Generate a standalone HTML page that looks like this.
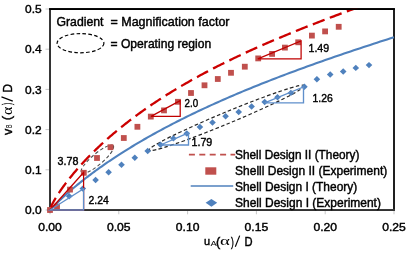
<!DOCTYPE html><html><head><meta charset="utf-8"><style>html,body{margin:0;padding:0;background:#fff;overflow:hidden}svg{display:block;will-change:transform}</style></head><body>
<svg width="406" height="257" viewBox="0 0 406 257" font-family="Liberation Sans, sans-serif">
<rect width="406" height="257" fill="#fff"/>
<line x1="45.5" y1="210.00" x2="50" y2="210.00" stroke="#c8c8c8" stroke-width="1"/>
<line x1="50.00" y1="210" x2="50.00" y2="214.3" stroke="#c8c8c8" stroke-width="1"/>
<line x1="45.5" y1="169.80" x2="50" y2="169.80" stroke="#c8c8c8" stroke-width="1"/>
<line x1="118.80" y1="210" x2="118.80" y2="214.3" stroke="#c8c8c8" stroke-width="1"/>
<line x1="45.5" y1="129.60" x2="50" y2="129.60" stroke="#c8c8c8" stroke-width="1"/>
<line x1="187.60" y1="210" x2="187.60" y2="214.3" stroke="#c8c8c8" stroke-width="1"/>
<line x1="45.5" y1="89.40" x2="50" y2="89.40" stroke="#c8c8c8" stroke-width="1"/>
<line x1="256.40" y1="210" x2="256.40" y2="214.3" stroke="#c8c8c8" stroke-width="1"/>
<line x1="45.5" y1="49.20" x2="50" y2="49.20" stroke="#c8c8c8" stroke-width="1"/>
<line x1="325.20" y1="210" x2="325.20" y2="214.3" stroke="#c8c8c8" stroke-width="1"/>
<line x1="45.5" y1="9.00" x2="50" y2="9.00" stroke="#c8c8c8" stroke-width="1"/>
<line x1="394.00" y1="210" x2="394.00" y2="214.3" stroke="#c8c8c8" stroke-width="1"/>
<rect x="50" y="9.05" width="344" height="200.95" fill="none" stroke="#000" stroke-width="1.75"/>
<line x1="49.9" y1="8.2" x2="49.9" y2="210.9" stroke="#3a3a3a" stroke-width="1.75"/>
<line x1="49.1" y1="209.9" x2="394.9" y2="209.9" stroke="#3a3a3a" stroke-width="1.9"/>
<text x="41.7" y="214.15" font-size="11.7" text-anchor="end" textLength="16.6" lengthAdjust="spacingAndGlyphs" fill="#000" stroke="#000" stroke-width="0.42">0.0</text>
<text x="41.7" y="173.95" font-size="11.7" text-anchor="end" textLength="16.6" lengthAdjust="spacingAndGlyphs" fill="#000" stroke="#000" stroke-width="0.42">0.1</text>
<text x="41.7" y="133.75" font-size="11.7" text-anchor="end" textLength="16.6" lengthAdjust="spacingAndGlyphs" fill="#000" stroke="#000" stroke-width="0.42">0.2</text>
<text x="41.7" y="93.55" font-size="11.7" text-anchor="end" textLength="16.6" lengthAdjust="spacingAndGlyphs" fill="#000" stroke="#000" stroke-width="0.42">0.3</text>
<text x="41.7" y="53.35" font-size="11.7" text-anchor="end" textLength="16.6" lengthAdjust="spacingAndGlyphs" fill="#000" stroke="#000" stroke-width="0.42">0.4</text>
<text x="41.7" y="13.15" font-size="11.7" text-anchor="end" textLength="16.6" lengthAdjust="spacingAndGlyphs" fill="#000" stroke="#000" stroke-width="0.42">0.5</text>
<text x="50.00" y="231.0" font-size="11.6" text-anchor="middle" textLength="23.6" lengthAdjust="spacingAndGlyphs" fill="#000" stroke="#000" stroke-width="0.42">0.00</text>
<text x="118.80" y="231.0" font-size="11.6" text-anchor="middle" textLength="23.6" lengthAdjust="spacingAndGlyphs" fill="#000" stroke="#000" stroke-width="0.42">0.05</text>
<text x="187.60" y="231.0" font-size="11.6" text-anchor="middle" textLength="23.6" lengthAdjust="spacingAndGlyphs" fill="#000" stroke="#000" stroke-width="0.42">0.10</text>
<text x="256.40" y="231.0" font-size="11.6" text-anchor="middle" textLength="23.6" lengthAdjust="spacingAndGlyphs" fill="#000" stroke="#000" stroke-width="0.42">0.15</text>
<text x="325.20" y="231.0" font-size="11.6" text-anchor="middle" textLength="23.6" lengthAdjust="spacingAndGlyphs" fill="#000" stroke="#000" stroke-width="0.42">0.20</text>
<text x="394.00" y="231.0" font-size="11.6" text-anchor="middle" textLength="23.6" lengthAdjust="spacingAndGlyphs" fill="#000" stroke="#000" stroke-width="0.42">0.25</text>
<line x1="235.3" y1="246.7" x2="239.7" y2="235.6" stroke="#000" stroke-width="1.15"/>
<line x1="12.8" y1="101.1" x2="1.5" y2="96.9" stroke="#000" stroke-width="1.15"/>
<text x="204.0" y="244.5" font-family="Liberation Sans" font-size="11.6" textLength="6.09" lengthAdjust="spacingAndGlyphs" fill="#000" stroke="#000" stroke-width="0.42">u</text>
<text x="210.5" y="245.5" font-family="Liberation Sans" font-size="6.4" textLength="6.29" lengthAdjust="spacingAndGlyphs" fill="#000" >A</text>
<text x="216.0" y="245.5" font-family="Liberation Sans" font-size="13.0" textLength="4.28" lengthAdjust="spacingAndGlyphs" fill="#000" stroke="#000" stroke-width="0.42">(</text>
<text x="220.0" y="244.5" font-family="Liberation Serif" font-size="12.6" textLength="9.83" lengthAdjust="spacingAndGlyphs" fill="#000" >α</text>
<text x="231.0" y="245.5" font-family="Liberation Sans" font-size="13.0" textLength="2.81" lengthAdjust="spacingAndGlyphs" fill="#000" stroke="#000" stroke-width="0.42">)</text>
<text x="244.5" y="246.0" font-family="Liberation Sans" font-size="12.4" textLength="8.05" lengthAdjust="spacingAndGlyphs" fill="#000" stroke="#000" stroke-width="0.42">D</text>
<text transform="translate(12.0,135.0) rotate(-90)" x="0" y="0" font-family="Liberation Sans" font-size="12.6" textLength="6.25" lengthAdjust="spacingAndGlyphs" fill="#000" stroke="#000" stroke-width="0.42">v</text>
<text transform="translate(12.0,128.0) rotate(-90)" x="0" y="0" font-family="Liberation Sans" font-size="8.4" textLength="3.47" lengthAdjust="spacingAndGlyphs" fill="#000" >B</text>
<text transform="translate(11.0,120.0) rotate(-90)" x="0" y="0" font-family="Liberation Sans" font-size="13.0" textLength="4.12" lengthAdjust="spacingAndGlyphs" fill="#000" stroke="#000" stroke-width="0.42">(</text>
<text transform="translate(12.0,115.0) rotate(-90)" x="0" y="0" font-family="Liberation Serif" font-size="13.6" textLength="8.3" lengthAdjust="spacingAndGlyphs" fill="#000" >α</text>
<text transform="translate(10.5,105.0) rotate(-90)" x="0" y="0" font-family="Liberation Sans" font-size="13.0" textLength="2.3" lengthAdjust="spacingAndGlyphs" fill="#000" stroke="#000" stroke-width="0.42">)</text>
<text transform="translate(11.5,92.5) rotate(-90)" x="0" y="0" font-family="Liberation Sans" font-size="13.4" textLength="8.5" lengthAdjust="spacingAndGlyphs" fill="#000" stroke="#000" stroke-width="0.42">D</text>
<ellipse cx="226.8" cy="117.9" rx="84.2" ry="5.8" transform="rotate(-22.55 226.8 117.9)" fill="none" stroke="#262626" stroke-width="1.2" stroke-dasharray="3.6 2.4"/>
<ellipse cx="97.3" cy="159.3" rx="21" ry="5.5" transform="rotate(-40.5 97.3 159.3)" fill="none" stroke="#4d4d4d" stroke-width="1.1" stroke-dasharray="3.4 2.4"/>
<path d="M50.00,210.00 L50.01,210.01 L50.03,210.00 L50.08,209.97 L50.14,209.92 L50.22,209.84 L50.31,209.75 L50.43,209.64 L50.56,209.51 L50.70,209.35 L50.87,209.18 L51.05,208.99 L51.25,208.79 L51.47,208.56 L51.70,208.32 L51.95,208.05 L52.22,207.77 L52.51,207.48 L52.81,207.16 L53.14,206.83 L53.47,206.49 L53.83,206.12 L54.20,205.75 L54.60,205.35 L55.00,204.94 L55.43,204.51 L55.87,204.07 L56.33,203.62 L56.81,203.15 L57.31,202.66 L57.82,202.16 L58.35,201.65 L58.90,201.12 L59.46,200.59 L60.04,200.03 L60.64,199.47 L61.26,198.89 L61.89,198.30 L62.54,197.69 L63.21,197.07 L63.90,196.45 L64.60,195.81 L65.32,195.16 L66.06,194.49 L66.82,193.82 L67.59,193.13 L68.38,192.44 L69.19,191.73 L70.01,191.01 L70.86,190.29 L71.72,189.55 L72.59,188.80 L73.49,188.05 L74.40,187.28 L75.33,186.51 L76.28,185.72 L77.24,184.93 L78.22,184.13 L79.22,183.32 L80.24,182.50 L81.27,181.68 L82.32,180.84 L83.39,180.00 L84.48,179.15 L85.58,178.29 L86.70,177.43 L87.84,176.55 L88.99,175.67 L90.17,174.79 L91.36,173.90 L92.56,173.00 L93.79,172.09 L95.03,171.18 L96.29,170.26 L97.57,169.34 L98.86,168.41 L100.17,167.47 L101.50,166.53 L102.85,165.59 L104.21,164.64 L105.59,163.68 L106.99,162.72 L108.41,161.75 L109.84,160.78 L111.29,159.81 L112.76,158.83 L114.25,157.84 L115.75,156.85 L117.27,155.86 L118.81,154.87 L120.36,153.87 L121.93,152.86 L123.52,151.86 L125.13,150.84 L126.76,149.83 L128.40,148.81 L130.06,147.79 L131.73,146.77 L133.43,145.74 L135.14,144.71 L136.87,143.68 L138.61,142.65 L140.38,141.61 L142.16,140.57 L143.95,139.53 L145.77,138.48 L147.60,137.44 L149.45,136.39 L151.32,135.34 L153.21,134.29 L155.11,133.23 L157.03,132.18 L158.97,131.12 L160.92,130.06 L162.89,129.00 L164.88,127.94 L166.89,126.88 L168.91,125.81 L170.95,124.75 L173.01,123.68 L175.09,122.61 L177.18,121.54 L179.29,120.47 L181.42,119.40 L183.57,118.33 L185.73,117.26 L187.91,116.18 L190.11,115.11 L192.32,114.03 L194.55,112.96 L196.80,111.88 L199.07,110.81 L201.36,109.73 L203.66,108.65 L205.98,107.58 L208.31,106.50 L210.67,105.42 L213.04,104.34 L215.43,103.27 L217.83,102.19 L220.26,101.11 L222.70,100.03 L225.16,98.95 L227.63,97.87 L230.13,96.79 L232.64,95.71 L235.16,94.63 L237.71,93.55 L240.27,92.48 L242.85,91.40 L245.45,90.32 L248.06,89.24 L250.70,88.16 L253.35,87.08 L256.01,86.00 L258.70,84.92 L261.40,83.84 L264.12,82.76 L266.85,81.69 L269.61,80.61 L272.38,79.53 L275.17,78.45 L277.97,77.37 L280.80,76.29 L283.64,75.21 L286.49,74.13 L289.37,73.06 L292.26,71.98 L295.17,70.90 L298.10,69.82 L301.04,68.74 L304.01,67.66 L306.99,66.58 L309.98,65.50 L313.00,64.42 L316.03,63.34 L319.08,62.26 L322.14,61.18 L325.23,60.10 L328.33,59.02 L331.45,57.93 L334.58,56.85 L337.74,55.77 L340.91,54.68 L344.10,53.60 L347.30,52.51 L350.52,51.43 L353.76,50.34 L357.02,49.25 L360.30,48.16 L363.59,47.07 L366.90,45.98 L370.22,44.89 L373.57,43.80 L376.93,42.70 L380.31,41.61 L383.71,40.51 L387.12,39.41 L390.55,38.31 L394.00,37.21" fill="none" stroke="#4f81bd" stroke-width="2.1"/>
<path d="M50.00,206.80 L53.30,210.00 L50.00,213.20 L46.70,210.00 Z" fill="#4f81bd"/>
<path d="M56.50,202.80 L59.80,206.00 L56.50,209.20 L53.20,206.00 Z" fill="#4f81bd"/>
<path d="M69.20,193.10 L72.50,196.30 L69.20,199.50 L65.90,196.30 Z" fill="#4f81bd"/>
<path d="M82.80,185.40 L86.10,188.60 L82.80,191.80 L79.50,188.60 Z" fill="#4f81bd"/>
<path d="M95.60,176.80 L98.90,180.00 L95.60,183.20 L92.30,180.00 Z" fill="#4f81bd"/>
<path d="M108.60,169.00 L111.90,172.20 L108.60,175.40 L105.30,172.20 Z" fill="#4f81bd"/>
<path d="M121.50,161.50 L124.80,164.70 L121.50,167.90 L118.20,164.70 Z" fill="#4f81bd"/>
<path d="M134.80,154.50 L138.10,157.70 L134.80,160.90 L131.50,157.70 Z" fill="#4f81bd"/>
<path d="M147.70,147.80 L151.00,151.00 L147.70,154.20 L144.40,151.00 Z" fill="#4f81bd"/>
<path d="M160.50,141.50 L163.80,144.70 L160.50,147.90 L157.20,144.70 Z" fill="#4f81bd"/>
<path d="M173.40,135.20 L176.70,138.40 L173.40,141.60 L170.10,138.40 Z" fill="#4f81bd"/>
<path d="M186.80,130.30 L190.10,133.50 L186.80,136.70 L183.50,133.50 Z" fill="#4f81bd"/>
<path d="M199.90,123.80 L203.20,127.00 L199.90,130.20 L196.60,127.00 Z" fill="#4f81bd"/>
<path d="M212.50,119.30 L215.80,122.50 L212.50,125.70 L209.20,122.50 Z" fill="#4f81bd"/>
<path d="M225.60,113.10 L228.90,116.30 L225.60,119.50 L222.30,116.30 Z" fill="#4f81bd"/>
<path d="M238.70,108.80 L242.00,112.00 L238.70,115.20 L235.40,112.00 Z" fill="#4f81bd"/>
<path d="M251.60,103.30 L254.90,106.50 L251.60,109.70 L248.30,106.50 Z" fill="#4f81bd"/>
<path d="M264.70,98.80 L268.00,102.00 L264.70,105.20 L261.40,102.00 Z" fill="#4f81bd"/>
<path d="M277.50,94.10 L280.80,97.30 L277.50,100.50 L274.20,97.30 Z" fill="#4f81bd"/>
<path d="M290.90,89.70 L294.20,92.90 L290.90,96.10 L287.60,92.90 Z" fill="#4f81bd"/>
<path d="M304.40,83.60 L307.70,86.80 L304.40,90.00 L301.10,86.80 Z" fill="#4f81bd"/>
<path d="M316.90,76.00 L320.20,79.20 L316.90,82.40 L313.60,79.20 Z" fill="#4f81bd"/>
<path d="M330.20,71.30 L333.50,74.50 L330.20,77.70 L326.90,74.50 Z" fill="#4f81bd"/>
<path d="M343.20,68.30 L346.50,71.50 L343.20,74.70 L339.90,71.50 Z" fill="#4f81bd"/>
<path d="M355.80,64.70 L359.10,67.90 L355.80,71.10 L352.50,67.90 Z" fill="#4f81bd"/>
<path d="M369.00,61.90 L372.30,65.10 L369.00,68.30 L365.70,65.10 Z" fill="#4f81bd"/>
<clipPath id="pc"><rect x="50" y="8.6" width="344" height="202"/></clipPath>
<path clip-path="url(#pc)" d="M50.00,210.00 L50.00,209.87 L50.02,209.73 L50.04,209.58 L50.07,209.41 L50.12,209.23 L50.17,209.03 L50.23,208.82 L50.30,208.60 L50.38,208.36 L50.47,208.11 L50.56,207.84 L50.67,207.57 L50.79,207.28 L50.91,206.97 L51.05,206.66 L51.19,206.33 L51.34,205.99 L51.51,205.64 L51.68,205.28 L51.86,204.90 L52.05,204.52 L52.25,204.12 L52.46,203.71 L52.68,203.29 L52.91,202.86 L53.14,202.42 L53.39,201.97 L53.65,201.50 L53.91,201.03 L54.19,200.55 L54.47,200.05 L54.76,199.55 L55.07,199.03 L55.38,198.51 L55.70,197.98 L56.03,197.44 L56.37,196.89 L56.72,196.33 L57.07,195.76 L57.44,195.18 L57.82,194.59 L58.20,194.00 L58.60,193.39 L59.00,192.78 L59.42,192.16 L59.84,191.54 L60.27,190.90 L60.72,190.26 L61.17,189.60 L61.63,188.95 L62.10,188.28 L62.58,187.61 L63.06,186.93 L63.56,186.24 L64.07,185.54 L64.59,184.84 L65.11,184.13 L65.65,183.42 L66.19,182.70 L66.74,181.97 L67.31,181.24 L67.88,180.50 L68.46,179.75 L69.05,179.00 L69.65,178.25 L70.26,177.48 L70.88,176.71 L71.51,175.94 L72.14,175.16 L72.79,174.38 L73.45,173.59 L74.11,172.79 L74.79,172.00 L75.47,171.19 L76.16,170.38 L76.86,169.57 L77.58,168.75 L78.30,167.93 L79.03,167.11 L79.77,166.28 L80.52,165.44 L81.27,164.60 L82.04,163.76 L82.82,162.92 L83.60,162.07 L84.40,161.21 L85.20,160.36 L86.02,159.50 L86.84,158.63 L87.67,157.77 L88.52,156.90 L89.37,156.02 L90.23,155.15 L91.10,154.27 L91.98,153.39 L92.86,152.50 L93.76,151.62 L94.67,150.73 L95.59,149.84 L96.51,148.94 L97.45,148.05 L98.39,147.15 L99.34,146.25 L100.31,145.34 L101.28,144.44 L102.26,143.53 L103.25,142.62 L104.25,141.71 L105.26,140.80 L106.28,139.89 L107.31,138.97 L108.34,138.05 L109.39,137.14 L110.45,136.22 L111.51,135.30 L112.59,134.37 L113.67,133.45 L114.76,132.53 L115.86,131.60 L116.98,130.67 L118.10,129.75 L119.23,128.82 L120.37,127.89 L121.52,126.96 L122.67,126.03 L123.84,125.10 L125.02,124.17 L126.20,123.23 L127.40,122.30 L128.60,121.37 L129.82,120.44 L131.04,119.50 L132.27,118.57 L133.52,117.63 L134.77,116.70 L136.03,115.77 L137.30,114.83 L138.58,113.90 L139.86,112.96 L141.16,112.03 L142.47,111.09 L143.78,110.16 L145.11,109.23 L146.45,108.29 L147.79,107.36 L149.14,106.43 L150.51,105.49 L151.88,104.56 L153.26,103.63 L154.65,102.70 L156.05,101.77 L157.46,100.84 L158.88,99.91 L160.31,98.98 L161.74,98.05 L163.19,97.12 L164.64,96.19 L166.11,95.27 L167.58,94.34 L169.07,93.42 L170.56,92.49 L172.06,91.57 L173.57,90.64 L175.10,89.72 L176.63,88.80 L178.17,87.88 L179.71,86.96 L181.27,86.04 L182.84,85.13 L184.42,84.21 L186.00,83.29 L187.60,82.38 L189.20,81.47 L190.82,80.55 L192.44,79.64 L194.07,78.73 L195.71,77.82 L197.37,76.91 L199.03,76.01 L200.70,75.10 L202.37,74.19 L204.06,73.29 L205.76,72.39 L207.47,71.48 L209.18,70.58 L210.91,69.68 L212.64,68.78 L214.39,67.89 L216.14,66.99 L217.90,66.09 L219.68,65.20 L221.46,64.31 L223.25,63.41 L225.05,62.52 L226.86,61.63 L228.68,60.74 L230.50,59.85 L232.34,58.97 L234.19,58.08 L236.04,57.20 L237.91,56.31 L239.78,55.43 L241.67,54.55 L243.56,53.66 L245.46,52.78 L247.37,51.91 L249.29,51.03 L251.22,50.15 L253.16,49.27 L255.11,48.40 L257.07,47.52 L259.04,46.65 L261.02,45.77 L263.00,44.90 L265.00,44.03 L267.00,43.16 L269.02,42.29 L271.04,41.41 L273.07,40.55 L275.11,39.68 L277.16,38.81 L279.22,37.94 L281.29,37.07 L283.37,36.21 L285.46,35.34 L287.56,34.47 L289.67,33.61 L291.78,32.74 L293.91,31.88 L296.04,31.01 L298.19,30.15 L300.34,29.28 L302.50,28.42 L304.68,27.55 L306.86,26.69 L309.05,25.82 L311.25,24.96 L313.46,24.09 L315.68,23.23 L317.90,22.36 L320.14,21.50 L322.39,20.63 L324.64,19.77 L326.91,18.90 L329.18,18.03 L331.47,17.17 L333.76,16.30 L336.06,15.43 L338.37,14.56 L340.69,13.69 L343.02,12.82 L345.36,11.95 L347.71,11.08 L350.07,10.20 L352.44,9.33 L354.81,8.45 L357.20,7.57 L357.40,7.50" fill="none" stroke="#cc0000" stroke-width="2.3" stroke-dasharray="12.6 5.6" stroke-dashoffset="17.2"/>
<line x1="49.1" y1="9.05" x2="394.9" y2="9.05" stroke="#000" stroke-width="1.75"/>
<rect x="47.10" y="207.10" width="5.8" height="5.8" fill="#c0504d"/>
<rect x="54.10" y="203.70" width="5.8" height="5.8" fill="#c0504d"/>
<rect x="67.10" y="186.70" width="5.8" height="5.8" fill="#c0504d"/>
<rect x="80.90" y="169.90" width="5.8" height="5.8" fill="#c0504d"/>
<rect x="94.10" y="155.10" width="5.8" height="5.8" fill="#c0504d"/>
<rect x="107.60" y="144.30" width="5.8" height="5.8" fill="#c0504d"/>
<rect x="120.90" y="135.10" width="5.8" height="5.8" fill="#c0504d"/>
<rect x="134.50" y="123.90" width="5.8" height="5.8" fill="#c0504d"/>
<rect x="147.90" y="113.70" width="5.8" height="5.8" fill="#c0504d"/>
<rect x="161.10" y="107.50" width="5.8" height="5.8" fill="#c0504d"/>
<rect x="175.00" y="98.90" width="5.8" height="5.8" fill="#c0504d"/>
<rect x="188.10" y="90.10" width="5.8" height="5.8" fill="#c0504d"/>
<rect x="201.60" y="82.40" width="5.8" height="5.8" fill="#c0504d"/>
<rect x="214.90" y="76.10" width="5.8" height="5.8" fill="#c0504d"/>
<rect x="228.10" y="69.90" width="5.8" height="5.8" fill="#c0504d"/>
<rect x="241.90" y="63.80" width="5.8" height="5.8" fill="#c0504d"/>
<rect x="255.30" y="55.50" width="5.8" height="5.8" fill="#c0504d"/>
<rect x="269.20" y="51.00" width="5.8" height="5.8" fill="#c0504d"/>
<rect x="282.00" y="44.70" width="5.8" height="5.8" fill="#c0504d"/>
<rect x="295.30" y="39.40" width="5.8" height="5.8" fill="#c0504d"/>
<rect x="309.00" y="32.70" width="5.8" height="5.8" fill="#c0504d"/>
<rect x="322.20" y="28.50" width="5.8" height="5.8" fill="#c0504d"/>
<rect x="335.80" y="23.90" width="5.8" height="5.8" fill="#c0504d"/>
<path d="M50,210 L83.6,172.5 L83.6,210 Z" fill="none" stroke="#c00000" stroke-width="1.25" stroke-linejoin="miter"/>
<path d="M151,116.4 L180.2,100.6 L180.2,116.4 Z" fill="none" stroke="#c00000" stroke-width="1.25" stroke-linejoin="miter"/>
<path d="M257.8,58.8 L301.1,41.0 L301.1,58.8 Z" fill="none" stroke="#c00000" stroke-width="1.25" stroke-linejoin="miter"/>
<path d="M50,210 L83.6,188.7 L83.6,210 Z" fill="none" stroke="#5f8fcb" stroke-width="1.35"/>
<path d="M160.5,145 L188.5,132.8 L188.5,145 Z" fill="none" stroke="#5f8fcb" stroke-width="1.35"/>
<path d="M264.7,102.9 L303.5,87 L303.5,102.9 Z" fill="none" stroke="#5f8fcb" stroke-width="1.35"/>
<text x="56.5" y="26.28" font-size="12.2" textLength="46.96" lengthAdjust="spacingAndGlyphs" fill="#000" stroke="#000" stroke-width="0.42">Gradient</text>
<text x="110.5" y="26.28" font-size="12.2" textLength="118.98" lengthAdjust="spacingAndGlyphs" fill="#000" stroke="#000" stroke-width="0.42">= Magnification factor</text>
<text x="110.5" y="47.78" font-size="12.2" textLength="100.7" lengthAdjust="spacingAndGlyphs" fill="#000" stroke="#000" stroke-width="0.42">= Operating region</text>
<text x="235.0" y="158.78" font-size="12.2" textLength="124.43" lengthAdjust="spacingAndGlyphs" fill="#000" stroke="#000" stroke-width="0.42">Shell Design II (Theory)</text>
<text x="235.0" y="174.78" font-size="12.2" textLength="152.23" lengthAdjust="spacingAndGlyphs" fill="#000" stroke="#000" stroke-width="0.42">Shelll Design II (Experiment)</text>
<text x="235.0" y="191.28" font-size="12.2" textLength="122.23" lengthAdjust="spacingAndGlyphs" fill="#000" stroke="#000" stroke-width="0.42">Shell Design I (Theory)</text>
<text x="235.0" y="206.78" font-size="12.2" textLength="145.95" lengthAdjust="spacingAndGlyphs" fill="#000" stroke="#000" stroke-width="0.42">Shell Design I (Experiment)</text>
<text x="57.5" y="164.64" font-size="11.3" textLength="20.86" lengthAdjust="spacingAndGlyphs" fill="#000" stroke="#000" stroke-width="0.42">3.78</text>
<text x="88.5" y="203.64" font-size="11.3" textLength="20.22" lengthAdjust="spacingAndGlyphs" fill="#000" stroke="#000" stroke-width="0.42">2.24</text>
<text x="184.5" y="107.14" font-size="11.3" textLength="13.59" lengthAdjust="spacingAndGlyphs" fill="#000" stroke="#000" stroke-width="0.42">2.0</text>
<text x="191.5" y="146.14" font-size="11.3" textLength="20.81" lengthAdjust="spacingAndGlyphs" fill="#000" stroke="#000" stroke-width="0.42">1.79</text>
<text x="308.5" y="52.14" font-size="11.3" textLength="20.62" lengthAdjust="spacingAndGlyphs" fill="#000" stroke="#000" stroke-width="0.42">1.49</text>
<text x="312.5" y="101.64" font-size="11.3" textLength="20.22" lengthAdjust="spacingAndGlyphs" fill="#000" stroke="#000" stroke-width="0.42">1.26</text>
<ellipse cx="80.5" cy="43.2" rx="23.4" ry="9.6" fill="none" stroke="#000" stroke-width="1.2" stroke-dasharray="3.6 2.3"/>
<line x1="188.9" y1="154.6" x2="235.2" y2="154.6" stroke="#c0504d" stroke-width="1.6" stroke-dasharray="6 4.4"/>
<rect x="205.3" y="167.3" width="11" height="7.4" fill="#c0504d"/>
<line x1="190.7" y1="186" x2="233.2" y2="186" stroke="#4f81bd" stroke-width="1.6"/>
<path d="M211.4,198.9 L217.2,202.85 L211.4,206.8 L205.6,202.85 Z" fill="#4f81bd"/>
</svg></body></html>
